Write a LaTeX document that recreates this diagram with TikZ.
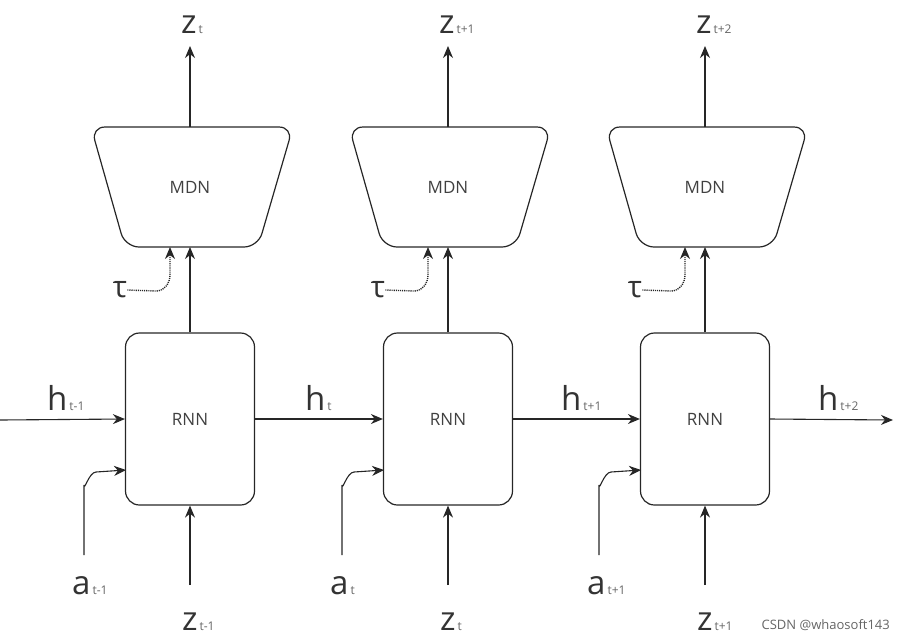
\documentclass[tikz,border=0pt]{standalone}
\usepackage{fontspec}
\setmainfont{Open Sans}
\usetikzlibrary{arrows.meta}
\newcommand{\sbf}[1]{{\fontsize{12}{14}\selectfont\color{black!60}\,#1}}
\begin{document}
\begin{tikzpicture}[x=1pt,y=-1pt,
  line/.style={draw=black!85,line width=1.1pt},
  arr/.style={line,-{Stealth[length=12pt,width=10pt]}},
  box/.style={draw=black!85,line width=1.2pt,rounded corners=14pt,minimum width=129pt,minimum height=172pt,font=\fontsize{17}{20}\selectfont,text=black!75},
  lab/.style={font=\fontsize{33}{36}\selectfont,text=black!80,inner sep=0pt,anchor=base west}]
\useasboundingbox (0,0) rectangle (904,641);
\newcommand{\mycol}[5]{% #1 center x, #2 name, #3 a sub, #4 zin sub, #5 zout sub
  \node[box] (r#2) at (#1,419) {RNN};
  \draw[draw=black!85,line width=1.2pt,rounded corners=14pt] (#1-99,127) -- (#1+103,127) -- (#1+68,247) -- (#1-65,247) -- cycle;
  \node[font=\fontsize{17}{20}\selectfont,text=black!75] (m#2) at (#1,187) {MDN};
  \coordinate (mb#2) at (#1,247);
  \coordinate (mt#2) at (#1,127);
  \coordinate (zo#2) at (#1,46);
  \draw[arr] (r#2.north) -- (mb#2);
  \draw[arr] (mt#2) -- (zo#2);
  \node[lab] (zol#2) at (#1-9,33) {z\sbf{#5}};
  \coordinate (zi#2) at (#1,585);
  \draw[arr] (zi#2) -- (r#2.south);
  \node[lab] (zil#2) at (#1-8,630) {z\sbf{#4}};
  \coordinate (ai#2) at (#1-106,555);
  \coordinate (ae#2) at (#1-64,470);
  \draw[arr] (ai#2) -- (#1-106,485) to[out=-90,in=180] (#1-94,472) -- (ae#2);
  \node[lab] (al#2) at (#1-118,594) {a\sbf{#3}};
  \node[font=\fontsize{30}{32}\selectfont,text=black!80,inner sep=0pt] (tau#2) at (#1-70,290) {τ};
  \coordinate (te#2) at (#1-20,247);
  \draw[line,densely dotted,line width=1.4pt,-{Stealth[length=12pt,width=10pt]}] (tau#2.east) -- (#1-34,291) to[out=0,in=-90] (#1-20,275) -- (te#2);
}
\mycol{190}{1}{t-1}{t-1}{t}
\mycol{448}{2}{t}{t}{t+1}
\mycol{705}{3}{t+1}{t+1}{t+2}
\coordinate (hs) at (0,420);
\coordinate (he) at (893,420);
\draw[arr] (hs) -- (r1.west);
\draw[arr] (r1.east) -- (r2.west);
\draw[arr] (r2.east) -- (r3.west);
\draw[arr] (r3.east) -- (he);
\node[lab] (h1) at (47,410) {h\sbf{t-1}};
\node[lab] (h2) at (305,410) {h\sbf{t}};
\node[lab] (h3) at (561,410) {h\sbf{t+1}};
\node[lab] (h4) at (818,410) {h\sbf{t+2}};
\node[font=\fontsize{13}{15}\selectfont,text=black!60,anchor=east,inner sep=0pt,fill=white] (wm) at (890,625) {CSDN @whaosoft143};
\end{tikzpicture}
\end{document}
